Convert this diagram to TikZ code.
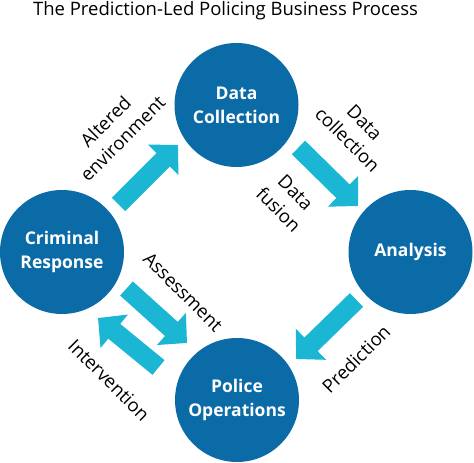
\documentclass[tikz,border=0pt]{standalone}
\usepackage{fontspec}
\setmainfont{Open Sans}
\usetikzlibrary{arrows.meta}
\definecolor{stageblue}{RGB}{11,107,167}
\definecolor{flowcyan}{RGB}{27,182,211}
\tikzset{
  stage/.style={circle,fill=stageblue,minimum size=124pt,inner sep=0pt,
    text=white,align=center,font=\fontsize{17.5}{24}\selectfont\bfseries},
  flow/.style={flowcyan,line width=19pt,-{Triangle[length=21pt,width=42pt]}},
  flowlabel/.style={align=center,inner sep=0pt,font=\fontsize{18.5}{24}\selectfont}
}
\begin{document}
\begin{tikzpicture}[x=1pt,y=1pt]
        \useasboundingbox (0,0) rectangle (474,463);
        \node[anchor=base,font=\fontsize{18.5}{22}\selectfont] (title) at (225.5,447) {The Prediction-Led Policing Business Process};
        \node[stage] (DC) at (236.5,358) {Data\\Collection};
        \node[stage] (AN) at (410.5,211) {Analysis};
        \node[stage] (PO) at (237,63) {Police\\Operations};
        \node[stage] (CR) at (62,211) {Criminal\\Response};
        \coordinate (CR-DC) at (118.5,258.5);
        \coordinate (DC-CR) at (178,318);
        \coordinate (DC-AN) at (298.5,315.5);
        \coordinate (AN-DC) at (358,257);
        \coordinate (AN-PO) at (356.5,163);
        \coordinate (PO-AN) at (296,104);
        \coordinate (CR-PO) at (126.5,174.5);
        \coordinate (PO-CR) at (187,120);
        \coordinate (PO-CR2) at (158.5,95.5);
        \coordinate (CR-PO2) at (98,145);
        \draw[flow] (CR-DC) -- (DC-CR);
        \draw[flow] (DC-AN) -- (AN-DC);
        \draw[flow] (AN-PO) -- (PO-AN);
        \draw[flow] (CR-PO) -- (PO-CR);
        \draw[flow] (PO-CR2) -- (CR-PO2);
        \node[flowlabel,rotate=45] (altered) at (114,333) {Altered\\environment};
        \node[flowlabel,rotate=-45] (collect) at (356,332) {Data\\collection};
        \node[flowlabel,rotate=-45] (fusion) at (287,262) {Data\\fusion};
        \node[flowlabel,rotate=-45] (assess) at (183,171) {Assessment};
        \node[flowlabel,rotate=-45] (interv) at (109,83) {Intervention};
        \node[flowlabel,rotate=45] (predict) at (356,104) {Prediction};
      \end{tikzpicture}
\end{document}
